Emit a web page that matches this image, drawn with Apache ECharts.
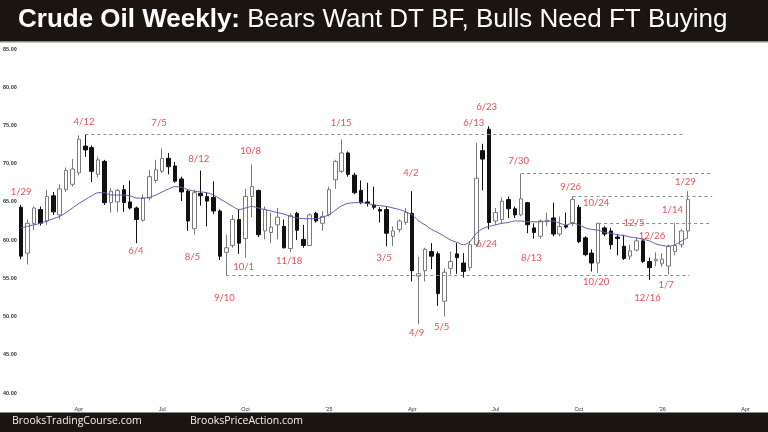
<!DOCTYPE html>
<html>
<head>
<meta charset="utf-8">
<script src="https://cdn.jsdelivr.net/npm/echarts@6/dist/echarts.min.js"></script>
<style>
  html, body { margin: 0; padding: 0; background: #ffffff; }
  #chart { width: 768px; height: 432px; }
</style>
</head>
<body>
<div id="chart"></div>
<script>
// weekly bars, first bar = week of 2024-01-29, last = week of 2026-01-26
const opens = [64.3, 58.3, 62.2, 64.0, 62.5, 65.8, 63.3, 66.6, 67.3, 68.8,
  72.3, 72.1, 68.6, 70.3, 64.9, 65.0, 66.6, 65.0, 64.2, 62.6,
  65.5, 67.8, 69.0, 70.7, 69.7, 68.0, 66.4, 61.5, 66.1, 65.7,
  65.6, 63.8, 58.4, 59.3, 62.7, 60.2, 65.7, 66.5, 61.2, 61.0,
  62.0, 61.8, 58.9, 63.5, 60.1, 59.3, 63.5, 62.2, 63.3, 67.9,
  69.0, 71.4, 68.5, 66.5, 65.0, 64.6, 64.0, 64.0, 60.5, 61.4,
  62.3, 63.5, 55.3, 56.0, 58.5, 58.2, 52.0, 56.3, 58.2, 57.0,
  56.4, 59.4, 71.7, 74.5, 62.5, 62.7, 65.3, 64.1, 63.3, 64.9,
  61.6, 60.5, 62.4, 62.9, 60.8, 61.9, 62.3, 64.3, 60.3, 58.3,
  57.0, 61.6, 61.2, 60.4, 59.2, 57.9, 58.7, 59.9, 57.2, 57.3,
  56.9, 56.6, 58.5, 59.4, 61.2];
const closes = [57.9, 62.2, 64.2, 62.2, 65.7, 63.7, 66.7, 69.1, 69.3, 73.2,
  71.8, 69.0, 70.5, 64.9, 66.4, 66.5, 64.9, 64.2, 62.7, 65.5,
  68.3, 69.2, 70.7, 69.6, 67.7, 66.3, 62.5, 66.2, 65.8, 65.1,
  63.8, 57.9, 59.0, 62.7, 59.6, 65.7, 67.0, 60.7, 64.0, 61.7,
  63.0, 59.0, 63.2, 61.3, 59.3, 63.3, 62.5, 63.1, 66.6, 70.3,
  71.4, 68.6, 66.2, 64.9, 64.8, 64.3, 63.8, 60.9, 61.2, 62.5,
  63.6, 56.0, 55.6, 58.8, 57.9, 53.0, 55.8, 57.2, 57.7, 55.9,
  59.4, 68.1, 70.6, 62.3, 63.6, 65.1, 64.1, 63.3, 65.4, 62.0,
  61.0, 62.5, 62.6, 60.8, 61.8, 61.7, 65.3, 59.8, 58.1, 57.0,
  62.2, 60.8, 59.4, 60.2, 57.6, 58.6, 59.9, 57.2, 56.4, 57.5,
  57.5, 59.2, 59.3, 61.2, 65.3];
const lows = [57.5, 56.8, 61.3, 61.9, 62.0, 63.3, 62.7, 66.3, 67.0, 68.5,
  70.9, 67.6, 68.2, 64.6, 63.6, 63.7, 63.7, 64.0, 59.6, 62.4,
  65.2, 67.5, 68.8, 68.6, 67.5, 65.1, 61.2, 60.7, 64.5, 61.8,
  63.4, 57.4, 55.4, 59.0, 58.2, 57.7, 63.0, 60.4, 60.1, 59.6,
  60.1, 58.9, 58.4, 60.0, 59.0, 59.2, 62.3, 61.2, 63.1, 66.7,
  68.8, 68.3, 66.0, 64.7, 64.4, 64.0, 62.3, 59.2, 59.2, 61.0,
  62.0, 54.6, 49.0, 54.6, 56.2, 51.4, 50.0, 55.5, 55.6, 55.1,
  56.0, 59.1, 66.5, 61.4, 62.0, 62.2, 62.9, 62.9, 63.1, 60.9,
  60.2, 60.2, 61.8, 60.5, 60.5, 61.5, 61.8, 59.6, 57.9, 55.9,
  55.7, 60.5, 58.8, 58.0, 57.4, 57.4, 58.5, 57.0, 54.8, 56.6,
  56.5, 55.5, 58.0, 59.0, 60.2];
const highs = [64.6, 62.7, 64.4, 64.4, 66.6, 66.3, 67.3, 69.5, 70.6, 73.7,
  73.8, 72.4, 70.9, 70.5, 66.8, 66.7, 67.2, 67.8, 64.4, 66.0,
  69.2, 70.5, 72.0, 71.4, 70.2, 68.3, 66.6, 66.6, 69.1, 66.2,
  67.7, 64.0, 60.7, 63.3, 64.0, 66.7, 69.9, 66.6, 64.4, 63.6,
  64.2, 62.7, 63.5, 63.7, 62.0, 63.5, 63.7, 63.8, 67.0, 70.5,
  73.2, 71.6, 68.8, 67.8, 67.5, 67.0, 64.3, 64.4, 61.8, 62.7,
  64.2, 66.4, 57.8, 59.0, 59.6, 58.5, 56.3, 58.5, 59.6, 58.3,
  59.9, 72.7, 72.6, 74.9, 64.2, 65.6, 65.7, 64.4, 68.7, 65.0,
  62.2, 62.7, 63.6, 64.9, 63.1, 63.6, 65.7, 64.6, 60.5, 58.8,
  62.25, 61.8, 61.6, 60.8, 60.7, 59.4, 60.3, 60.1, 57.7, 58.4,
  58.3, 59.4, 62.25, 61.4, 66.4];
// moving average
const ma = [61.6, 61.8, 62.0, 62.2, 62.5, 62.8, 63.1, 63.6, 64.2, 64.8,
  65.3, 65.8, 66.2, 66.2, 65.9, 65.9, 65.9, 65.8, 65.5, 65.5,
  65.6, 65.9, 66.3, 66.7, 67.0, 66.9, 66.6, 66.4, 66.3, 66.2,
  65.9, 65.4, 64.9, 64.4, 64.0, 64.2, 64.4, 64.2, 64.0, 63.8,
  63.6, 63.4, 63.1, 62.9, 62.8, 62.8, 62.8, 63.0, 63.3, 63.9,
  64.5, 64.8, 64.9, 64.9, 64.8, 64.6, 64.5, 64.4, 64.2, 64.0,
  63.7, 63.3, 62.5, 62.0, 61.4, 61.0, 60.5, 60.0, 59.7, 59.4,
  59.8, 60.9, 61.5, 61.8, 62.0, 62.2, 62.3, 62.5, 62.5, 62.4,
  62.4, 62.4, 62.5, 62.5, 62.2, 62.0, 62.2, 62.0, 61.6, 61.4,
  61.3, 61.0, 60.9, 60.7, 60.6, 60.4, 60.3, 60.1, 59.9, 59.5,
  59.3, 59.2, 59.4, 59.9, 60.3];

const tickIdx = [9, 22, 35, 48, 61, 74, 87, 100, 113];
const tickText = ["Apr", "Jul", "Oct", "'25", "Apr", "Jul", "Oct", "'26", "Apr"];

// [bar index, price, text]
const notes = [
  [0, 66.3, "1/29"], [9.8, 75.5, "4/12"], [21.5, 75.3, "7/5"], [27.7, 70.6, "8/12"],
  [35.8, 71.6, "10/8"], [17.9, 58.6, "6/4"], [26.7, 57.8, "8/5"], [34.7, 56.5, "10/1"],
  [31.7, 52.5, "9/10"], [41.8, 57.3, "11/18"], [49.9, 75.3, "1/15"], [60.8, 68.8, "4/2"],
  [56.6, 57.7, "3/5"], [72.6, 77.4, "6/23"], [70.6, 75.3, "6/13"], [72.6, 59.5, "6/24"],
  [77.6, 70.4, "7/30"], [85.7, 67.0, "9/26"], [89.7, 64.8, "10/24"], [95.6, 62.2, "12/5"],
  [98.4, 60.6, "12/26"], [101.6, 64.0, "1/14"], [103.6, 67.6, "1/29"], [79.6, 57.7, "8/13"],
  [89.7, 54.5, "10/20"], [100.6, 54.2, "1/7"], [97.7, 52.5, "12/16"], [61.7, 47.9, "4/9"],
  [65.6, 48.7, "5/5"]
];
// [price, from bar, to bar]
const levels = [[73.8, 10, 103.4], [68.7, 78, 107.8], [65.7, 86, 107.8], [62.25, 90, 107.8], [55.4, 32, 104.2]];

const NCAT = 117;
const categories = [];
for (let i = 0; i < NCAT; i++) {
  const d = new Date(Date.UTC(2024, 0, 29) + i * 7 * 86400000);
  categories.push(d.toISOString().slice(0, 10));
}
const candles = opens.map((o, i) => [o, closes[i], lows[i], highs[i]]);

const chart = echarts.init(document.getElementById("chart"), null, { renderer: "canvas" });
chart.setOption({
  animation: false,
  backgroundColor: "#ffffff",
  grid: { left: 17, top: 49, width: 752, height: 344, containLabel: false },
  xAxis: [
    {
      type: "category", data: categories, boundaryGap: true,
      axisLine: { show: false }, axisTick: { show: false }, splitLine: { show: false },
      axisLabel: {
        interval: (idx) => tickIdx.includes(idx),
        formatter: (v, idx) => tickText[tickIdx.indexOf(idx)] || "",
        fontSize: 5.5, color: "#333", fontFamily: "Liberation Sans", margin: 13, hideOverlap: false,
      },
    },
    { type: "value", min: -0.5, max: NCAT - 0.5, show: false },
  ],
  yAxis: {
    type: "value", min: 40, max: 85, interval: 5,
    axisLine: { show: false }, axisTick: { show: false }, splitLine: { show: false },
    axisLabel: { formatter: (v) => v.toFixed(2), fontSize: 5.5, fontWeight: "bold", color: "#333", align: "left", margin: 15, fontFamily: "Liberation Sans" },
  },
  series: [
    {
      type: "candlestick", data: candles, barWidth: 4,
      itemStyle: { color: "#ffffff", color0: "#111111", borderColor: "#7a7a7a", borderColor0: "#111111", borderWidth: 1 },
    },
    {
      type: "line", data: ma, symbol: "none", smooth: 0.3,
      lineStyle: { color: "#5c5fa8", width: 1 }, z: 3,
    },
    {
      type: "scatter", xAxisIndex: 1, symbolSize: 0, silent: true,
      data: notes,
      label: {
        show: true, position: "inside", formatter: (p) => p.data[2],
        color: "#d8262b", fontSize: 9.5, fontFamily: "Lato",
      },
      markLine: {
        silent: true, symbol: "none", animation: false,
        label: { show: false },
        lineStyle: { color: "#8c8c8c", type: [3, 3], width: 1 },
        data: levels.map((l) => [{ coord: [l[1], l[0]] }, { coord: [l[2], l[0]] }]),
      },
    },
  ],
  graphic: [
    { type: "rect", left: 0, top: 0, shape: { width: 768, height: 41 }, style: { fill: "#1b1512" }, z: 10 },
    { type: "rect", left: 0, top: 41, shape: { width: 768, height: 1.5 }, style: { fill: "#8e8982" }, z: 10 },
    {
      type: "text", left: 18, top: 7, z: 11,
      style: {
        text: "{b|Crude Oil Weekly:} Bears Want DT BF, Bulls Need FT Buying",
        fill: "#ffffff", font: "26px 'Liberation Sans'",
        rich: { b: { fontWeight: "bold", fontSize: 26, fontFamily: "Liberation Sans", fill: "#ffffff" } },
      },
    },
    { type: "rect", left: 0, top: 412, shape: { width: 768, height: 1 }, style: { fill: "#8e8982" }, z: 10 },
    { type: "rect", left: 0, top: 413, shape: { width: 768, height: 19 }, style: { fill: "#1b1512" }, z: 10 },
    { type: "text", left: 12, top: 416, z: 11, style: { text: "BrooksTradingCourse.com", fill: "#f2f2f2", font: "10.5px 'Open Sans'" } },
    { type: "text", left: 190, top: 416, z: 11, style: { text: "BrooksPriceAction.com", fill: "#f2f2f2", font: "10.5px 'Open Sans'" } },
  ],
});
</script>
</body>
</html>
